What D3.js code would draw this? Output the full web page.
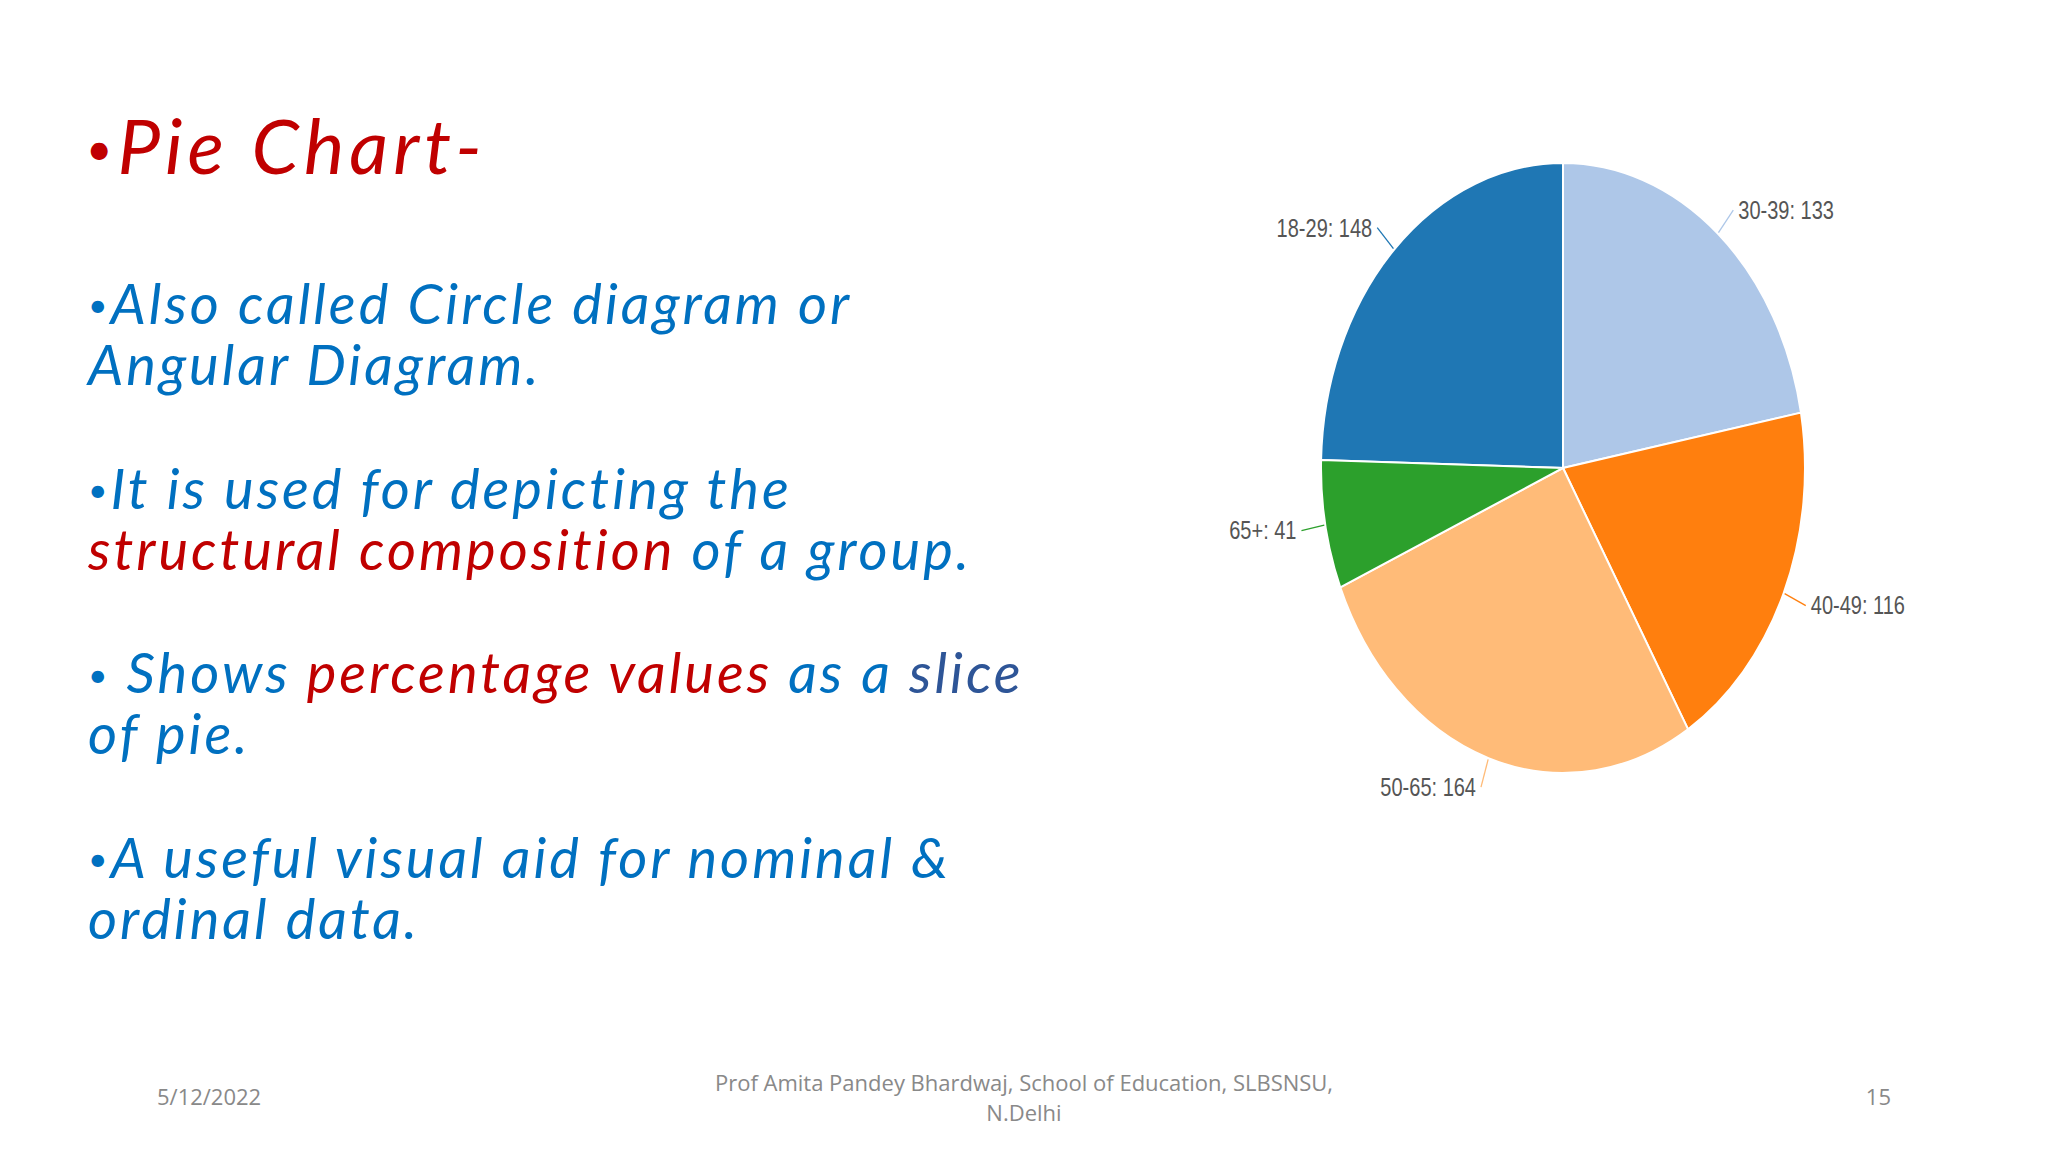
<!DOCTYPE html>
<html>
<head>
<meta charset="utf-8">
<script src="https://cdn.jsdelivr.net/npm/d3@7"></script>
<style>
  html, body { margin: 0; padding: 0; background: #fff; }
  svg { display: block; }
</style>
</head>
<body>
<svg id="slide" width="2048" height="1152"></svg>
<script>
// ---- data ----
const ageGroups = ['18-29', '30-39', '40-49', '50-65', '65+'];
const counts = [148, 133, 116, 164, 41];

const titleText = '•Pie Chart-';
// bullets -> lines -> [text, tone]
const bullets = [
  [[['•Also called Circle diagram or', 'base']],
   [['Angular Diagram.', 'base']]],
  [[['•It is used for depicting the', 'base']],
   [['structural composition', 'key'], [' of a group.', 'base']]],
  [[['• Shows ', 'base'], ['percentage values', 'key'], [' as a ', 'base'], ['slice', 'accent']],
   [['of pie.', 'base']]],
  [[['•A useful visual aid for nominal &', 'base']],
   [['ordinal data.', 'base']]]
];
const footerDate = '5/12/2022';
const footerLines = ['Prof Amita Pandey Bhardwaj, School of Education, SLBSNSU,', 'N.Delhi'];
const slideNo = '15';

const tones = { base: '#0070c0', key: '#c00000', accent: '#2e5597' };
const sliceColors = ['#1f77b4', '#aec7e8', '#ff7f0e', '#ffbb78', '#2ca02c'];

const svg = d3.select('#slide');
svg.append('rect').attr('width', 2048).attr('height', 1152).attr('fill', '#fff');

// ---- left text ----
const handFont = '"Segoe Print", "Comic Sans MS", Lato, sans-serif';

// split a leading bullet off so it can be drawn smaller, like the slide font
const splitBullet = segs => {
  const out = [];
  segs.forEach((s, i) => {
    if (i === 0 && s[0].startsWith('•')) {
      out.push({ text: '•', tone: s[1], dot: true });
      out.push({ text: s[0].slice(1), tone: s[1], after: true });
    } else {
      out.push({ text: s[0], tone: s[1] });
    }
  });
  return out;
};

const writeLine = (x, y, segs, size, spacing) => {
  const t = svg.append('text')
    .attr('x', x)
    .attr('y', y)
    .attr('font-family', handFont)
    .attr('font-style', 'italic')
    .attr('font-size', size)
    .attr('letter-spacing', spacing)
    .attr('xml:space', 'preserve');
  const lift = size * 0.12;
  t.selectAll('tspan')
    .data(splitBullet(segs))
    .enter()
    .append('tspan')
    .attr('fill', d => tones[d.tone])
    .attr('font-size', d => d.dot ? size * 0.6 : null)
    .attr('font-style', d => d.dot ? 'normal' : null)
    .attr('dy', d => d.dot ? -lift : d.after ? lift : null)
    .text(d => d.text);
};

writeLine(86, 174, [[titleText, 'key']], 76, 5);

const firstBaseline = 324, bulletGap = 184.7, lineGap = 61;

bullets.forEach((lines, b) => {
  lines.forEach((segs, l) => {
    writeLine(88, firstBaseline + b * bulletGap + l * lineGap, segs, 56, 3);
  });
});

// ---- pie ----
const cx = 1563, cy = 468, r = 242, ky = 305 / 242;

const color = d3.scaleOrdinal().domain(ageGroups).range(sliceColors);

// clockwise in data order, rotated so the first slice ends at 12 o'clock
const start = -2 * Math.PI * counts[0] / d3.sum(counts);
const pie = d3.pie().sort(null).startAngle(start).endAngle(start + 2 * Math.PI);
const arcs = pie(counts);

const arc = d3.arc().innerRadius(0).outerRadius(r);
const edgeArc = d3.arc().innerRadius(r + 1).outerRadius(r + 1);
const tipArc = d3.arc().innerRadius(r * 1.1).outerRadius(r * 1.1);

// stretched vertically like the original picture
const pieG = svg.append('g')
  .attr('transform', `translate(${cx}, ${cy}) scale(1, ${ky})`);

pieG.selectAll('path.slice')
  .data(arcs)
  .enter()
  .append('path')
  .attr('class', 'slice')
  .attr('d', arc)
  .attr('fill', (d, i) => color(ageGroups[i]))
  .attr('stroke', '#fff')
  .attr('stroke-width', 2)
  .attr('vector-effect', 'non-scaling-stroke');

// leader lines
pieG.selectAll('line.leader')
  .data(arcs)
  .enter()
  .append('line')
  .attr('class', 'leader')
  .attr('x1', d => edgeArc.centroid(d)[0])
  .attr('y1', d => edgeArc.centroid(d)[1])
  .attr('x2', d => tipArc.centroid(d)[0])
  .attr('y2', d => tipArc.centroid(d)[1])
  .attr('stroke', (d, i) => color(ageGroups[i]))
  .attr('stroke-width', 1.3)
  .attr('vector-effect', 'non-scaling-stroke');

// labels
pieG.selectAll('text.label')
  .data(arcs)
  .enter()
  .append('text')
  .attr('class', 'label')
  .attr('x', d => {
    const p = tipArc.centroid(d);
    return p[0] + (p[0] > 0 ? 5 : -5);
  })
  .attr('y', d => tipArc.centroid(d)[1])
  .attr('dy', '0.35em')
  .attr('text-anchor', d => tipArc.centroid(d)[0] > 0 ? 'start' : 'end')
  .attr('font-family', '"Liberation Sans", Arial, sans-serif')
  .attr('font-size', 20)
  .attr('fill', '#555')
  .text((d, i) => `${ageGroups[i]}: ${counts[i]}`);

// ---- footer ----
const footFont = '"Open Sans", "Noto Sans", sans-serif';

svg.append('text')
  .attr('x', 157)
  .attr('y', 1105)
  .attr('font-family', footFont)
  .attr('font-size', 22)
  .attr('fill', '#898989')
  .text(footerDate);

svg.selectAll('text.foot')
  .data(footerLines)
  .enter()
  .append('text')
  .attr('class', 'foot')
  .attr('x', 1024)
  .attr('y', (d, i) => 1091 + i * 30)
  .attr('text-anchor', 'middle')
  .attr('font-family', footFont)
  .attr('font-size', 22)
  .attr('fill', '#898989')
  .text(d => d);

svg.append('text')
  .attr('x', 1891)
  .attr('y', 1105)
  .attr('text-anchor', 'end')
  .attr('font-family', footFont)
  .attr('font-size', 22)
  .attr('fill', '#898989')
  .text(slideNo);
</script>
</body>
</html>
